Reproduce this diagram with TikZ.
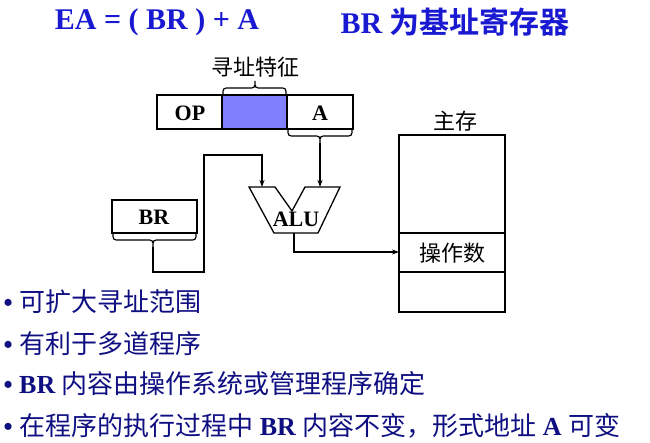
\documentclass[tikz,border=0pt]{standalone}
\usetikzlibrary{arrows.meta}
\usepackage{fontspec}
\setmainfont{Liberation Serif}
\newfontfamily\cjk{Noto Sans CJK SC}
\newfontfamily\cjkb{Noto Sans CJK SC}[BoldFont={Noto Sans CJK SC Bold}]
\definecolor{tblue}{RGB}{25,25,210}
\definecolor{dblue}{RGB}{15,15,130}
\definecolor{fill}{RGB}{128,128,255}
\begin{document}
\begin{tikzpicture}[x=1pt,y=-1pt,line width=1.3pt,
  lbl/.style={inner sep=0pt,font=\fontsize{22}{22}\selectfont\bfseries},
  cn/.style={inner sep=0pt,font=\fontsize{22}{22}\selectfont\cjk},
  bul/.style={inner sep=0pt,anchor=west,text=dblue,font=\fontsize{26}{26}\selectfont\bfseries},
  arr/.style={-{Stealth[length=7pt,width=5pt]}}]
\useasboundingbox (0,0) rectangle (650,442);
% title
\node[inner sep=0pt,text=tblue,font=\fontsize{30}{30}\selectfont\bfseries] (t1) at (157,22) {EA = ( BR ) + A};
\node[inner sep=0pt,text=tblue,anchor=west,font=\fontsize{30}{30}\selectfont\bfseries] (t2) at (340,22) {BR {\cjkb\bfseries 为基址寄存器}};
% instruction
\draw[fill=fill] (222,95) rectangle (287,129);
\draw (157,95) rectangle (353,129);
\node[lbl] (op) at (190,113) {OP};
\node[lbl] (a) at (320,113) {A};
\draw[line width=1.2pt] (223,95) .. controls (223,88) .. (230,88) -- (248,88) .. controls (255,88) .. (255,81) .. controls (255,88) .. (262,88) -- (279,88) .. controls (286,88) .. (286,95);
\node[cn] (feat) at (255,67) {寻址特征};
\draw[line width=1.2pt] (288,129) .. controls (288,136) .. (295,136) -- (313,136) .. controls (320,136) .. (320,143) .. controls (320,136) .. (327,136) -- (345,136) .. controls (352,136) .. (352,129);
\coordinate (abr) at (320,143);
% ALU
\draw (249,187) -- (275,187) -- (292,211) -- (305,187) -- (340,187) -- (318,233) -- (274,233) -- cycle;
\node[lbl] (alu) at (296,219) {ALU};
\coordinate (in1) at (262,187);
\coordinate (in2) at (320,187);
\draw[arr] (abr) -- (in2);
% BR
\draw (112,200) rectangle (197,233);
\node[lbl] (br) at (154,217) {BR};
\draw[line width=1.2pt] (113,233) .. controls (113,240) .. (120,240) -- (146,240) .. controls (153,240) .. (153,247) .. controls (153,240) .. (160,240) -- (189,240) .. controls (196,240) .. (196,233);
\coordinate (brb) at (153,247);
\draw[arr] (brb) -- (153,272) -- (204,272) -- (204,155) -- (262,155) -- (in1);
% memory
\draw (399,135) rectangle (505,312);
\draw (399,233) -- (505,233);
\draw (399,272) -- (505,272);
\node[cn] (mem) at (455,121) {主存};
\node[cn] (opd) at (452,253) {操作数};
\coordinate (memin) at (399,252);
\draw[arr] (294,233) -- (294,252) -- (memin);
% bullets
\node[bul] (b1) at (3,302) {• {\cjk\mdseries 可扩大寻址范围}};
\node[bul] (b2) at (3,344) {• {\cjk\mdseries 有利于多道程序}};
\node[bul] (b3) at (3,384) {• BR {\cjk\mdseries 内容由操作系统或管理程序确定}};
\node[bul] (b4) at (3,426) {• {\cjk\mdseries 在程序的执行过程中} BR {\cjk\mdseries 内容不变，形式地址} A {\cjk\mdseries 可变}};
\end{tikzpicture}
\end{document}
